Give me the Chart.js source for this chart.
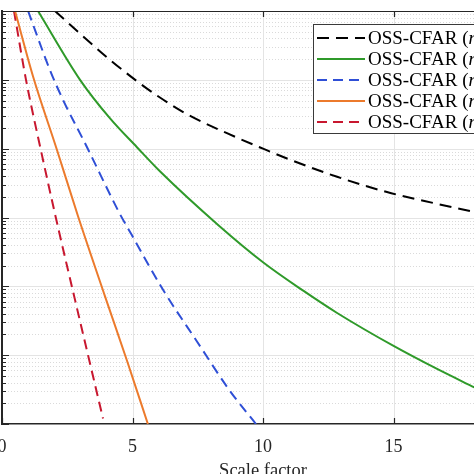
<!DOCTYPE html>
<html>
<head>
<meta charset="utf-8">
<script src="https://cdn.jsdelivr.net/npm/chart.js@4/dist/chart.umd.min.js"></script>
<style>
  html, body { margin: 0; padding: 0; background: #fff; }
  #frame { position: relative; width: 474px; height: 474px; overflow: hidden; background: #fff; }
  #chart { position: absolute; left: -70px; top: 0; }
</style>
</head>
<body>
<div id="frame">
  <canvas id="chart" width="600" height="490" style="width:600px;height:490px"></canvas>
</div>
<script>
// ========== データ ==========
const seriesLabels = ['OSS-CFAR (η', 'OSS-CFAR (η', 'OSS-CFAR (η', 'OSS-CFAR (η', 'OSS-CFAR (η'];
const seriesColors = ['#000000', '#2f9a2a', '#2f4fd6', '#ec7a2c', '#c8172f'];
const seriesDash = [[12, 7], [], [10, 6], [], [10, 6]];

const blackX = [2.03, 2.99, 4.14, 5.17, 5.94, 7.09, 9.0, 10.0, 10.92, 12.84, 14.75, 16.67, 18.1];
const blackY = [1, 0.468, 0.195, 0.0955, 0.059, 0.0316, 0.0145, 0.01, 0.0072, 0.0039, 0.00234, 0.00158, 0.0012];

const greenX = [1.38, 2.99, 4.14, 5.17, 6.05, 8.28, 10.0, 11.57, 12.84, 15.02, 16.67, 18.1];
const greenY = [1, 0.1, 0.0275, 0.0105, 0.0047, 7.8e-4, 2.24e-4, 8.5e-5, 4.1e-5, 1.35e-5, 6.3e-6, 3.4e-6];

const blueX = [1.0, 1.84, 2.34, 3.22, 4.52, 4.98, 6.17, 7.47, 8.74, 9.73];
const blueY = [1, 0.138, 0.051, 0.0112, 1.12e-3, 5.5e-4, 8.9e-5, 1.58e-5, 3.0e-6, 1e-6];

const orangeX = [0.5, 1.19, 2.11, 2.91, 3.95, 4.79, 5.59];
const orangeY = [1, 0.112, 0.0095, 1.05e-3, 7.1e-5, 8.3e-6, 1e-6];

const redX = [0.46, 0.92, 1.49, 2.11, 2.80, 3.87];
const redY = [1, 0.1, 0.0095, 8.3e-4, 6.3e-5, 1.2e-6];

const xTicks = [0, 5, 10, 15, 20];
const xTickLabels = ['0', '5', '10', '15'];
const yDecades = [1e-6, 1e-5, 1e-4, 1e-3, 1e-2, 1e-1, 1];
const yMinorSteps = [2, 3, 4, 5, 6, 7, 8, 9];
const xTitle = 'Scale factor';

// ========== ヘルパー ==========
function toPoints(xs, ys) {
  return xs.map((x, i) => ({ x: x, y: ys[i] }));
}

function yTickValues() {
  const vals = [];
  yDecades.forEach(d => {
    vals.push(d);
    if (d < 1) yMinorSteps.forEach(m => vals.push(d * m));
  });
  return vals;
}

function isDecade(v) {
  return yDecades.some(d => Math.abs(v - d) / d < 1e-9);
}

const seriesData = [
  toPoints(blackX, blackY),
  toPoints(greenX, greenY),
  toPoints(blueX, blueY),
  toPoints(orangeX, orangeY),
  toPoints(redX, redY),
];

const AXIS_COLOR = '#262626';
const SERIF = "'Liberation Serif', 'DejaVu Serif', serif";

// グリッドと内向き目盛り (MATLAB風)
const gridPlugin = {
  id: 'matlabGrid',
  beforeDatasetsDraw(chart) {
    const { ctx, chartArea: a, scales } = chart;
    const xs = scales.x, ys = scales.y;
    ctx.save();
    ctx.lineWidth = 1;
    yTickValues().forEach(v => {
      const py = Math.round(ys.getPixelForValue(v)) + 0.5;
      if (py <= a.top + 1 || py >= a.bottom - 1) return;
      if (isDecade(v)) {
        ctx.setLineDash([]);
        ctx.strokeStyle = '#e4e4e4';
      } else {
        ctx.setLineDash([1, 2]);
        ctx.strokeStyle = '#dadada';
      }
      ctx.beginPath();
      ctx.moveTo(a.left, py);
      ctx.lineTo(a.right, py);
      ctx.stroke();
    });
    ctx.setLineDash([]);
    ctx.strokeStyle = '#e4e4e4';
    xTicks.forEach(v => {
      const px = Math.round(xs.getPixelForValue(v)) + 0.5;
      if (px <= a.left + 1 || px >= a.right - 1) return;
      ctx.beginPath();
      ctx.moveTo(px, a.top);
      ctx.lineTo(px, a.bottom);
      ctx.stroke();
    });
    ctx.restore();
  },
  afterDatasetsDraw(chart) {
    const { ctx, chartArea: a, scales } = chart;
    const xs = scales.x, ys = scales.y;
    ctx.save();
    ctx.strokeStyle = AXIS_COLOR;
    ctx.lineWidth = 1.2;
    ctx.beginPath();
    ctx.moveTo(a.left, a.top + 0.5);
    ctx.lineTo(a.right, a.top + 0.5);
    ctx.moveTo(a.right - 0.5, a.top);
    ctx.lineTo(a.right - 0.5, a.bottom);
    ctx.stroke();
    xTicks.forEach(v => {
      const px = Math.round(xs.getPixelForValue(v)) + 0.5;
      ctx.beginPath();
      ctx.moveTo(px, a.bottom);
      ctx.lineTo(px, a.bottom - 6);
      ctx.moveTo(px, a.top);
      ctx.lineTo(px, a.top + 6);
      ctx.stroke();
    });
    yTickValues().forEach(v => {
      const py = Math.round(ys.getPixelForValue(v)) + 0.5;
      const len = isDecade(v) ? 7 : 4;
      ctx.beginPath();
      ctx.moveTo(a.left, py);
      ctx.lineTo(a.left + len, py);
      ctx.moveTo(a.right, py);
      ctx.lineTo(a.right - len, py);
      ctx.stroke();
    });
    ctx.restore();
  },
};

// 凡例 (右上の枠)
const legendPlugin = {
  id: 'boxLegend',
  afterDraw(chart) {
    const ctx = chart.ctx;
    const boxL = 383.5, boxT = 24.5, boxR = 596, boxB = 133.5;
    ctx.save();
    ctx.fillStyle = '#ffffff';
    ctx.fillRect(boxL, boxT, boxR - boxL, boxB - boxT);
    ctx.strokeStyle = '#3a3a3a';
    ctx.lineWidth = 1;
    ctx.strokeRect(boxL, boxT, boxR - boxL, boxB - boxT);
    const rowY = [38, 59, 80, 101, 122];
    chart.data.datasets.forEach((ds, i) => {
      const y = rowY[i];
      ctx.strokeStyle = ds.borderColor;
      ctx.lineWidth = 2;
      ctx.setLineDash(ds.borderDash || []);
      ctx.beginPath();
      ctx.moveTo(387, y);
      ctx.lineTo(435, y);
      ctx.stroke();
      ctx.setLineDash([]);
      const label = ds.label;
      const head = label.slice(0, label.length - 1);
      const eta = label.slice(label.length - 1);
      ctx.fillStyle = '#000';
      ctx.textBaseline = 'middle';
      ctx.font = '19px ' + SERIF;
      ctx.fillText(head, 438, y + 1);
      const w = ctx.measureText(head).width;
      ctx.font = 'italic 19px ' + SERIF;
      ctx.fillText(eta, 438 + w, y + 1);
    });
    ctx.restore();
  },
};

// ========== 描画 ==========
new Chart(document.getElementById('chart'), {
  type: 'line',
  data: {
    datasets: seriesData.map((pts, i) => ({
      label: seriesLabels[i],
      data: pts,
      borderColor: seriesColors[i],
      backgroundColor: seriesColors[i],
      borderDash: seriesDash[i],
      borderWidth: 2,
      pointRadius: 0,
      cubicInterpolationMode: 'monotone',
      fill: false,
    })),
  },
  options: {
    responsive: false,
    animation: false,
    layout: { padding: { left: 0, right: 6, top: 11, bottom: 0 } },
    plugins: { legend: { display: false }, tooltip: { enabled: false } },
    scales: {
      x: {
        type: 'linear',
        min: 0,
        max: 20,
        afterBuildTicks: s => { s.ticks = xTickLabels.map((t, i) => ({ value: xTicks[i] })); },
        afterFit: s => { s.height = 66; },
        grid: { display: false, drawTicks: false },
        border: { display: true, color: AXIS_COLOR, width: 1.6 },
        ticks: {
          color: AXIS_COLOR,
          padding: 12,
          font: { family: SERIF, size: 18 },
          callback: (v, i) => xTickLabels[i],
        },
        title: {
          display: true,
          text: xTitle,
          color: AXIS_COLOR,
          font: { family: SERIF, size: 18.5 },
          padding: { top: 0, bottom: 8 },
        },
      },
      y: {
        type: 'logarithmic',
        min: 1e-6,
        max: 1,
        afterBuildTicks: s => { s.ticks = yTickValues().map(v => ({ value: v })); },
        afterFit: s => { s.width = 72; },
        grid: { display: false, drawTicks: false },
        border: { display: true, color: AXIS_COLOR, width: 2 },
        ticks: { display: false },
      },
    },
  },
  plugins: [gridPlugin, legendPlugin],
});
</script>
</body>
</html>
